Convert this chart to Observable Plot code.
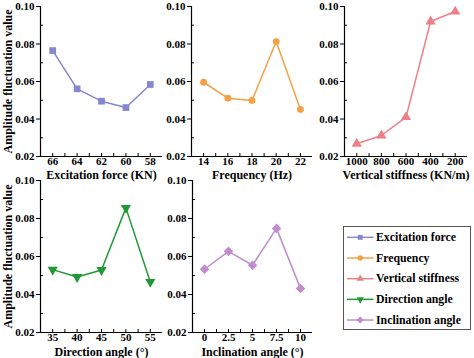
<!DOCTYPE html>
<html><head><meta charset="utf-8">
<script src="https://cdn.jsdelivr.net/npm/d3@7"></script>
<script src="https://cdn.jsdelivr.net/npm/@observablehq/plot@0.6"></script>
<style>
body{margin:0;background:#fff;}
#root{position:relative;width:474px;height:358px;overflow:hidden;background:#fff;}
#root > *{position:absolute;}
</style></head><body><div id="root"></div>
<script>
const yTitle = "Amplitude fluctuation value";
const yMajor = [0.02, 0.04, 0.06, 0.08, 0.10];
const yMinor = [0.03, 0.05, 0.07, 0.09];

const forceX = [66, 64, 62, 60, 58];
const forceY = [0.0765, 0.0561, 0.0495, 0.0461, 0.0584];
const freqX = [14, 16, 18, 20, 22];
const freqY = [0.0596, 0.0511, 0.0499, 0.0813, 0.0451];
const stiffX = [1000, 800, 600, 400, 200];
const stiffY = [0.0268, 0.0312, 0.0410, 0.0920, 0.0973];
const dirX = [35, 40, 45, 50, 55];
const dirY = [0.0531, 0.0492, 0.0529, 0.0856, 0.0466];
const inclX = [0, 2.5, 5, 7.5, 10];
const inclY = [0.0533, 0.0627, 0.0554, 0.0748, 0.0431];

const seriesNames = ["Excitation force", "Frequency", "Vertical stiffness", "Direction angle", "Inclination angle"];
const xTitles = ["Excitation force (KN)", "Frequency (Hz)", "Vertical stiffness (KN/m)", "Direction angle (°)", "Inclination angle (°)"];
const colors = ["#8787cf", "#f5a044", "#ef7f86", "#1f9936", "#c18ccb"];
const symbols = ["square", "circle", "triangle", "triangle", "square"];
const rotations = [0, 0, 0, 180, 45];

const root = document.getElementById("root");
const font = {fontFamily: "'Liberation Serif', 'Times New Roman', serif", fontWeight: "bold", fontSize: "11px", color: "#000", background: "transparent", overflow: "visible"};

const panels = [
  {xs: forceX, ys: forceY, left: 0, top: 0, ml: 40, dom: [67, 57], minor: [65, 63, 61, 59], row: 0, yt: true},
  {xs: freqX, ys: freqY, left: 150, top: 0, ml: 41, dom: [13, 23], minor: [15, 17, 19, 21], row: 0, yt: false},
  {xs: stiffX, ys: stiffY, left: 305, top: 0, ml: 39, dom: [1100, 100], minor: [900, 700, 500, 300], row: 0, yt: false},
  {xs: dirX, ys: dirY, left: 0, top: 174, ml: 40, dom: [32.5, 57.5], minor: [37.5, 42.5, 47.5, 52.5], row: 1, yt: true},
  {xs: inclX, ys: inclY, left: 150, top: 174, ml: 42, dom: [-1.25, 11.25], minor: [1.25, 3.75, 6.25, 8.75], row: 1, yt: false}
];

panels.forEach((p, i) => {
  const data = p.xs.map((x, j) => ({x, y: p.ys[j]}));
  const height = p.row === 0 ? 180 : 184;
  const mb = p.row === 0 ? 24 : 26;
  const marks = [
    Plot.ruleY([0.02], {stroke: "#000", strokeWidth: 1.2}),
    Plot.ruleX([p.dom[0]], {stroke: "#000", strokeWidth: 1.2}),
    Plot.axisY({ticks: yMajor, tickSize: 4, tickPadding: 2, tickFormat: d => d.toFixed(2), label: null, fontSize: 11}),
    Plot.axisY({ticks: yMinor, tickSize: -3, tickFormat: () => "", label: null}),
    Plot.axisX({ticks: p.xs, tickSize: 0, tickPadding: 1, tickFormat: d => String(d), label: null, fontSize: 11}),
    Plot.axisX({ticks: p.xs.concat(p.minor), tickSize: -3, tickFormat: () => "", label: null}),
    Plot.line(data, {x: "x", y: "y", stroke: colors[i], strokeWidth: 1.5}),
    Plot.dot(data, {x: "x", y: "y", symbol: symbols[i], fill: colors[i], stroke: "none", r: i === 1 ? 3.4 : 3.8, rotate: rotations[i]}),
    Plot.text([xTitles[i]], {frameAnchor: "bottom", textAnchor: "middle", lineAnchor: "middle", dy: p.row === 0 ? 19 : 20, fontSize: 12, fill: "#000"})
  ];
  if (p.yt) marks.push(Plot.text([yTitle], {frameAnchor: "left", textAnchor: "middle", lineAnchor: "middle", dx: -32, rotate: -90, fontSize: 12, fill: "#000"}));
  const chart = Plot.plot({
    width: 162, height,
    marginLeft: p.ml, marginRight: 0, marginTop: 6, marginBottom: mb,
    x: {domain: p.dom},
    y: {domain: [0.02, 0.10]},
    style: font,
    marks
  });
  chart.style.left = p.left + "px";
  chart.style.top = p.top + "px";
  root.appendChild(chart);
});

// legend
const legend = Plot.plot({
  width: 128, height: 104,
  marginLeft: 0, marginRight: 0, marginTop: 9, marginBottom: 9,
  x: {domain: [0, 128], range: [0, 128], axis: null},
  y: {type: "point", domain: seriesNames, padding: 0, axis: null},
  style: font,
  marks: [
    Plot.ruleY(seriesNames, {y: d => d, x1: 3, x2: 30, stroke: (d, j) => colors[j], strokeWidth: 1.5}),
    Plot.dot(seriesNames, {y: d => d, x: 16, symbol: (d, j) => symbols[j], rotate: (d, j) => rotations[j], fill: (d, j) => colors[j], r: 2.8}),
    Plot.text(seriesNames, {y: d => d, x: 32, text: d => d, textAnchor: "start", fontSize: 12, fill: "#000"})
  ]
});
legend.style.left = "343px";
legend.style.top = "226px";
legend.style.border = "1px solid #555";
legend.style.boxSizing = "border-box";
root.appendChild(legend);
</script>
</body></html>
